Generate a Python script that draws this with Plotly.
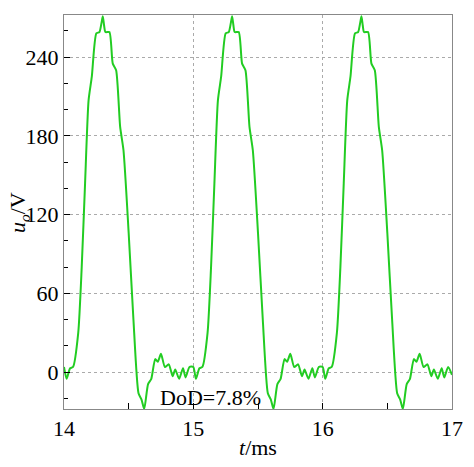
import plotly.graph_objects as go

# one measured cycle (time offset in ms within period, voltage in V)
cycle_t = [0.0, 0.02, 0.047, 0.07, 0.11, 0.137, 0.163, 0.19, 0.215, 0.25, 0.274, 0.29, 0.30, 0.31,
           0.32, 0.351, 0.377, 0.403, 0.434, 0.46, 0.5, 0.537, 0.576, 0.6, 0.62, 0.65, 0.675,
           0.705, 0.725, 0.75, 0.78, 0.81, 0.84, 0.86, 0.89, 0.92, 0.94, 0.97]
cycle_v = [4, -5, 3, 4, 30, 80, 144, 207, 225, 258, 259, 266, 271, 264,
           259, 259, 235, 230, 187, 169, 106, 40, -16, -21, -28, -9, -5,
           10, 8, 14, 4, 6, -3, 2, -5, 3, -4, 4]
periods = [14, 15, 16]
end_t = [17.0]
end_v = [-2]

t, v = [], []
for p in periods:
    t += [p + c for c in cycle_t]
    v += cycle_v
t += end_t
v += end_v

font = dict(family="Liberation Serif", size=22, color="black")
grid = dict(showgrid=True, gridcolor="#aaa", griddash="dot", gridwidth=1, zeroline=False,
            showline=True, mirror=True, linecolor="#888", linewidth=1,
            ticks="inside", ticklen=6, tickcolor="black", automargin=False)

fig = go.Figure(go.Scatter(x=t, y=v, mode="lines", line=dict(color="#22cc22", width=2,
                                                             shape="spline", smoothing=0.6)))
fig.add_annotation(x=15.13, y=-19, text="DoD=7.8%", showarrow=False, font=font)
fig.add_annotation(x=0.5, y=-0.097, xref="paper", yref="paper", yanchor="middle",
                   text="<i>t</i>/ms", showarrow=False, font=font)
fig.add_annotation(x=-0.116, y=0.5, xref="paper", yref="paper", textangle=-90,
                   xanchor="center", text="<i>u</i><sub><i>o</i></sub>/V", showarrow=False, font=font)
fig.update_layout(
    width=474, height=467, plot_bgcolor="white", paper_bgcolor="white",
    margin=dict(l=56, r=30, t=7, b=66), showlegend=False, font=font,
    xaxis=dict(range=[14, 17], tickvals=[14, 15, 16, 17], **grid,
               minor=dict(tickvals=[14.5, 15.5, 16.5], ticks="inside", ticklen=6, tickcolor="black")),
    yaxis=dict(range=[-28, 272], tickvals=[0, 60, 120, 180, 240], **grid,
               minor=dict(tickvals=[-20, 20, 40, 80, 100, 140, 160, 200, 220, 260],
                          ticks="inside", ticklen=4, tickcolor="black")),
)
fig.write_html("out.html")
